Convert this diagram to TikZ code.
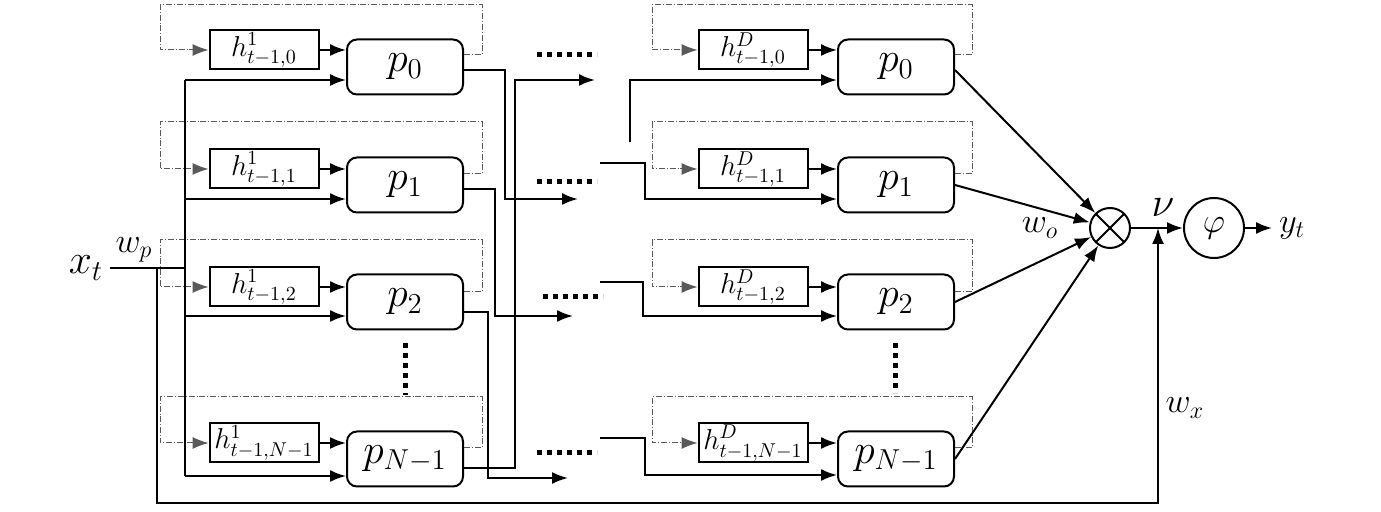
\documentclass[tikz,border=0pt]{standalone}
\usepackage{amsmath}
\usetikzlibrary{arrows.meta,calc}
\begin{document}
\begin{tikzpicture}[x=0.5pt,y=-0.5pt,
  arr/.style={-{Latex[length=8pt,width=6pt]}},
  ln/.style={line width=1pt},
  fb/.style={densely dashdotted,gray!70!black,line width=0.5pt,-{Latex[length=8pt,width=6pt]}},
  hbox/.style={draw,line width=1pt,minimum width=54.5pt,minimum height=19.5pt,inner sep=0pt,font=\Large},
  pbox/.style={draw,line width=1pt,rounded corners=5pt,minimum width=58pt,minimum height=27.5pt,inner sep=0pt,font=\huge},
  dots/.style={line width=2.5pt,dash pattern=on 2.5pt off 2.5pt}]
\useasboundingbox (0,0) rectangle (1381,512);

% rows: index / h centre y / p centre y / feedback top / subscript
\foreach \i/\hy/\py/\ft/\s in {0/50/67/5/0,1/169/185/122/1,2/287/302/240/2,3/443/459/397/{N-1}} {
  \node[hbox] (h\i) at (264,\hy) {$h^{1}_{t-1,\s}$};
  \node[pbox] (p\i) at (405,\py) {$p_{\s}$};
  \node[hbox] (hd\i) at (753,\hy) {$h^{D}_{t-1,\s}$};
  \node[pbox] (pd\i) at (896,\py) {$p_{\s}$};
  \draw[ln,arr] (h\i.east) -- (h\i.east -| p\i.west);
  \draw[ln,arr] (hd\i.east) -- (hd\i.east -| pd\i.west);
  \draw[fb] ($(p\i.east)+(0,\hy+5-\py)$) -- (482,\hy+5) -- (482,\ft) -- (160,\ft) -- (160,\hy) -- (h\i.west);
  \draw[fb] ($(pd\i.east)+(0,\hy+5-\py)$) -- (972,\hy+5) -- (972,\ft) -- (652,\ft) -- (652,\hy) -- (hd\i.west);
}

% input
\node[font=\huge] (xt) at (86,268) {$x_t$};
\node[font=\LARGE] (wp) at (134,250) {$w_p$};
\coordinate (bus) at (185,268);
\coordinate (tap) at (157,268);
\draw[ln] (xt.east) -- (bus);
\draw[ln] (185,80) -- (185,476);
\draw[ln,arr] (185,80) -- (p0.west |- 0,80);
\draw[ln,arr] (185,199) -- (p1.west |- 0,199);
\draw[ln,arr] (185,316) -- (p2.west |- 0,316);
\draw[ln,arr] (185,476) -- (p3.west |- 0,476);

% stage one outputs
\coordinate (o0) at (578,199);
\coordinate (o1) at (573,316);
\coordinate (o2) at (568,478);
\coordinate (o3) at (595,80);
\draw[ln,arr] ($(p0.east)+(0,3)$) -- (505,70) -- (505,199) -- (o0);
\draw[ln,arr] ($(p1.east)+(0,4)$) -- (495,189) -- (495,316) -- (o1);
\draw[ln,arr] ($(p2.east)+(0,10)$) -- (488,312) -- (488,478) -- (o2);
\draw[ln,arr] ($(p3.east)+(0,9)$) -- (515,468) -- (515,80) -- (o3);
\draw[dots] (537,55) -- (597,55);
\draw[dots] (537,182) -- (597,182);
\draw[dots] (543,297) -- (603,297);
\draw[dots] (537,453) -- (597,453);
\draw[dots] (405,343) -- (405,395);
\draw[dots] (895,343) -- (895,393);

% stage D inputs
\coordinate (s0) at (630,142);
\coordinate (s1) at (600,163);
\coordinate (s2) at (600,282);
\coordinate (s3) at (600,438);
\draw[ln,arr] (s0) -- (630,80) -- (pd0.west |- 0,80);
\draw[ln,arr] (s1) -- (645,163) -- (645,199) -- (pd1.west |- 0,199);
\draw[ln,arr] (s2) -- (643,282) -- (643,316) -- (pd2.west |- 0,316);
\draw[ln,arr] (s3) -- (645,438) -- (645,475) -- (pd3.west |- 0,475);

% output neuron
\node[draw,circle,line width=1pt,minimum size=20pt,inner sep=0pt] (mul) at (1110,228) {};
\draw[line width=1pt] ($(mul)+(-14,-14)$) -- ($(mul)+(14,14)$) ($(mul)+(-14,14)$) -- ($(mul)+(14,-14)$);
\node[draw,circle,line width=1pt,minimum size=30pt,inner sep=0pt,font=\LARGE] (phi) at (1214,228) {$\varphi$};
\node[font=\LARGE,anchor=west] (yt) at (1272,228) {$y_t$};
\node[font=\LARGE] (wo) at (1040,228) {$w_o$};
\node[font=\huge] (nu) at (1163,208) {$\nu$};
\node[font=\LARGE] (wx) at (1185,408) {$w_x$};
\foreach \i/\d in {0/3,1/0,2/0,3/0} \draw[ln,arr] ($(pd\i.east)+(0,\d)$) -- (mul);
\draw[ln,arr] (mul) -- (phi);
\draw[ln,arr] (phi) -- (yt.west);
\coordinate (jn) at (1158,228);
\draw[ln,arr] (tap) -- (157,503) -- (1158,503) -- (jn);
\end{tikzpicture}
\end{document}
